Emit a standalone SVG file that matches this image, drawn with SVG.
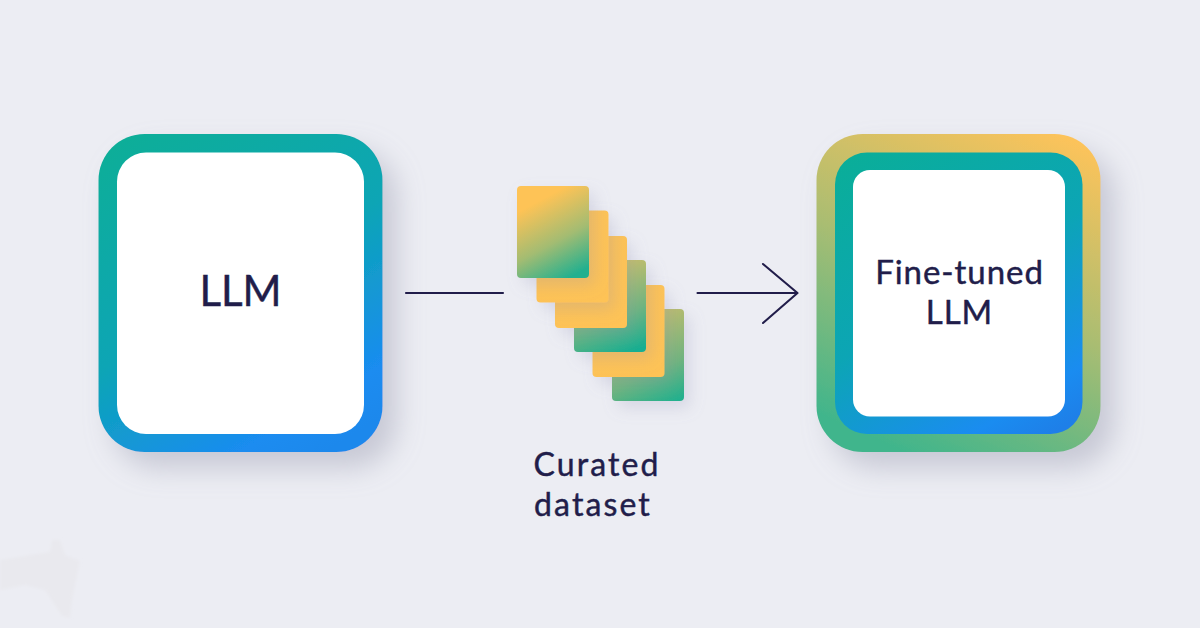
<svg xmlns="http://www.w3.org/2000/svg" width="1200" height="628" viewBox="0 0 1200 628">
<style>
text{font-family:"Lato","Noto Sans",sans-serif;fill:#211d4a;text-anchor:middle;stroke:#211d4a;stroke-width:.45px}
.t{font-size:33px;letter-spacing:.95px}
.c{font-size:32px;letter-spacing:2.1px}
.l{fill:none;stroke:#211d4a;stroke-width:2.100;stroke-linecap:round;stroke-linejoin:round}
.w{fill:#fff}
.y{fill:url(#cy)}
</style>
<defs>
<linearGradient id="g1" gradientUnits="userSpaceOnUse" x1="150" y1="120" x2="345" y2="440"><stop offset="0" stop-color="#0aae98"/><stop offset=".5" stop-color="#0ca5b5"/><stop offset=".88" stop-color="#1a8cf0"/><stop offset="1" stop-color="#1e88ec"/></linearGradient>
<linearGradient id="g2" gradientUnits="userSpaceOnUse" x1="865" y1="140" x2="1050" y2="435"><stop offset="0" stop-color="#0aae98"/><stop offset=".5" stop-color="#0ca5b5"/><stop offset=".88" stop-color="#1a8cf0"/><stop offset="1" stop-color="#1e7fe8"/></linearGradient>
<linearGradient id="o" gradientUnits="userSpaceOnUse" x1="1050" y1="130" x2="905" y2="455"><stop offset="0" stop-color="#fcc35a"/><stop offset=".5" stop-color="#a9bd72"/><stop offset="1" stop-color="#3fb58c"/></linearGradient>
<linearGradient id="cy" x1="0" y1="0" x2="1" y2="1"><stop offset="0" stop-color="#f6c46c"/><stop offset=".25" stop-color="#fdc257"/><stop offset="1" stop-color="#fec356"/></linearGradient>
<linearGradient id="c1" x1=".3" y1="0" x2=".72" y2="1"><stop offset=".14" stop-color="#fec356"/><stop offset=".6" stop-color="#a3bc72"/><stop offset="1" stop-color="#22b08f"/></linearGradient>
<linearGradient id="c4" x1=".55" y1="0" x2=".85" y2="1"><stop offset="0" stop-color="#ccbf68"/><stop offset=".6" stop-color="#6ab480"/><stop offset="1" stop-color="#14ae92"/></linearGradient>
<linearGradient id="c6" x1=".55" y1="0" x2=".9" y2="1"><stop offset="0" stop-color="#c4bd6b"/><stop offset=".62" stop-color="#6fb47e"/><stop offset="1" stop-color="#22b08e"/></linearGradient>
<filter id="s" x="-25%" y="-25%" width="150%" height="150%"><feDropShadow dx="14" dy="16" stdDeviation="14" flood-color="#9a9cb0" flood-opacity=".45"/></filter>
<filter id="sc" x="-40%" y="-40%" width="180%" height="180%"><feDropShadow dx="6" dy="7" stdDeviation="8" flood-color="#8f90b4" flood-opacity=".24"/></filter>
<filter id="b"><feGaussianBlur stdDeviation="1.5"/></filter>
</defs>
<rect width="1200" height="628" fill="#ecedf3"/>
<path d="M0 560L30 555L50 552L52 540L60 540L65 555L80 561L72 600L70 618L62 616L45 590L25 585L0 590Z" fill="#e9e9ee" filter="url(#b)"/>
<g id="llm">
<rect x="98.500" y="134" width="284" height="318" rx="46" fill="url(#g1)" filter="url(#s)"/>
<rect class="w" x="117" y="152.500" width="247" height="281.500" rx="29"/>
<text x="240.500" y="305.500" style="font-size:42px;letter-spacing:0">LLM</text>
</g>
<g id="connectors">
<path class="l" d="M406 293H503"/>
<path class="l" d="M697.500 293H797M763 264L797.500 293L763 323"/>
</g>
<g id="dataset">
<rect x="612" y="309" width="72" height="92" rx="4" fill="url(#c6)" filter="url(#sc)"/>
<rect class="y" x="592.500" y="285" width="72" height="92" rx="4" filter="url(#sc)"/>
<rect x="574" y="260" width="72" height="92" rx="4" fill="url(#c4)" filter="url(#sc)"/>
<rect class="y" x="555" y="236" width="72" height="92" rx="4" filter="url(#sc)"/>
<rect class="y" x="536.500" y="210.500" width="72" height="92" rx="4" filter="url(#sc)"/>
<rect x="517" y="186" width="72" height="92" rx="4" fill="url(#c1)" filter="url(#sc)"/>
<text class="c" x="597" y="475.500">Curated</text>
<text class="c" x="593" y="515.500">dataset</text>
</g>
<g id="fine-tuned">
<rect x="816.500" y="134" width="284" height="318" rx="46" fill="url(#o)" filter="url(#s)"/>
<rect x="835" y="152.500" width="247.500" height="281.500" rx="32" fill="url(#g2)"/>
<rect class="w" x="853" y="170" width="212" height="246.500" rx="17"/>
<text class="t" x="959.500" y="283.500">Fine-tuned</text>
<text class="t" x="959.500" y="323.500">LLM</text>
</g>
</svg>
